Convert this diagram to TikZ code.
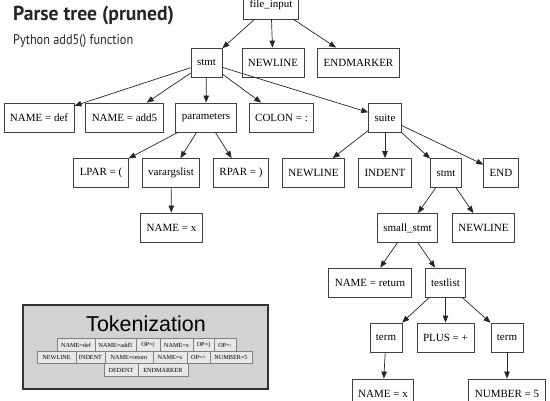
\documentclass[tikz,border=0pt]{standalone}
\usepackage{fontspec}
\usetikzlibrary{arrows.meta}
\newfontfamily\treefont{Liberation Serif}
\newfontfamily\sansfont{Liberation Sans}
\newfontfamily\titlefont[FakeStretch=0.97]{PT Sans Bold}
\newfontfamily\subfont[FakeStretch=0.88]{PT Sans}
\tikzset{
  treenode/.style={draw=black!75, line width=0.8pt, rectangle, minimum height=29pt,
    inner xsep=6pt, font={\treefont\fontsize{11}{13}\selectfont}},
  edge/.style={draw=black!85, line width=0.7pt, -{Triangle[length=7pt,width=5.5pt]}},
  tokcell/.style={draw=gray, line width=0.6pt, fill=gray!18, minimum height=12.5pt,
    inner sep=0pt, font={\treefont\fontsize{6.2}{7}\selectfont}}
}
\begin{document}
\begin{tikzpicture}[x=1pt,y=-1pt]
        \useasboundingbox (0,0) rectangle (550,400);
        \clip (0,0) rectangle (550,400);
        % titles
        \node[anchor=base west, inner sep=0pt, text=black!85,
          font={\titlefont\fontsize{20.2}{22}\selectfont}] (title) at (13,20) {Parse tree (pruned)};
        \node[anchor=base west, inner sep=0pt, text=black!85,
          font={\subfont\fontsize{14}{16}\selectfont}] (subtitle) at (13,44) {Python add5() function};
        % parse tree
        \node[treenode] (fileinput) at (271,4.5) {file\_input};
        \node[treenode] (stmt) at (206.5,62.5) {stmt};
        \node[treenode] (newline) at (273,62.5) {NEWLINE};
        \node[treenode] (endmarker) at (358.5,62.5) {ENDMARKER};
        \node[treenode] (namedef) at (39,117.5) {NAME = def};
        \node[treenode] (nameadd) at (124.5,117.5) {NAME = add5};
        \node[treenode] (params) at (206,117.5) {parameters};
        \node[treenode] (colon) at (281.5,117.5) {COLON = :};
        \node[treenode] (suite) at (385,117.5) {suite};
        \node[treenode] (lpar) at (101,173) {LPAR = (};
        \node[treenode] (varargs) at (171,173) {varargslist};
        \node[treenode] (rpar) at (241,173) {RPAR = )};
        \node[treenode] (namex) at (171.5,227.5) {NAME = x};
        \node[treenode] (newlineb) at (313.5,173) {NEWLINE};
        \node[treenode] (indent) at (385,173) {INDENT};
        \node[treenode] (stmtb) at (446,173) {stmt};
        \node[treenode] (endtok) at (501,173) {END};
        \node[treenode] (smallstmt) at (407.5,228) {small\_stmt};
        \node[treenode] (newlinec) at (483.5,228) {NEWLINE};
        \node[treenode] (namereturn) at (370,282.5) {NAME = return};
        \node[treenode] (testlist) at (445.5,282.5) {testlist};
        \node[treenode] (terma) at (386,337.5) {term};
        \node[treenode] (plus) at (445.5,337.5) {PLUS = +};
        \node[treenode] (termb) at (507,337.5) {term};
        \node[treenode] (namexb) at (383,393.5) {NAME = x};
        \node[treenode] (number) at (507,393.5) {NUMBER = 5};
        \foreach \a/\b in
            { fileinput/stmt, fileinput/newline, fileinput/endmarker%
            , stmt/namedef, stmt/nameadd, stmt/params, stmt/colon, stmt/suite%
            , params/lpar, params/varargs, params/rpar, varargs/namex%
            , suite/newlineb, suite/indent, suite/stmtb, suite/endtok%
            , stmtb/smallstmt, stmtb/newlinec%
            , smallstmt/namereturn, smallstmt/testlist%
            , testlist/terma, testlist/plus, testlist/termb%
            , terma/namexb, termb/number%
            }
        {\draw[edge] (\a) -- (\b);}
        % tokenization panel
        \node[draw=black!80, line width=1.3pt, fill=gray!35, minimum width=245pt,
          minimum height=84pt] (tokbox) at (145.5,347) {};
        \node[anchor=base, inner sep=0pt, font={\sansfont\fontsize{21.5}{24}\selectfont}]
          (toktitle) at (146,331) {Tokenization};
        \foreach \l/\a/\b[count=\i] in
            { NAME=def/57/95, NAME=add5/95/136, OP=(/136/160%
            , NAME=x/160/193, OP=)/193/214, OP=:/214/236%
            }
        {\node[tokcell, minimum width={(\b-\a)*1pt}] (rowa\i) at ({(\a+\b)/2},345) {\l};}
        \foreach \l/\a/\b[count=\i] in
            { NEWLINE/37/76, INDENT/76/105, NAME=return/105/153%
            , NAME=x/153/187, OP=+/187/210, NUMBER=5/210/252%
            }
        {\node[tokcell, minimum width={(\b-\a)*1pt}] (rowb\i) at ({(\a+\b)/2},357.5) {\l};}
        \foreach \l/\a/\b[count=\i] in
            { DEDENT/104/138, ENDMARKER/138/188%
            }
        {\node[tokcell, minimum width={(\b-\a)*1pt}] (rowc\i) at ({(\a+\b)/2},370) {\l};}
\end{tikzpicture}
\end{document}
